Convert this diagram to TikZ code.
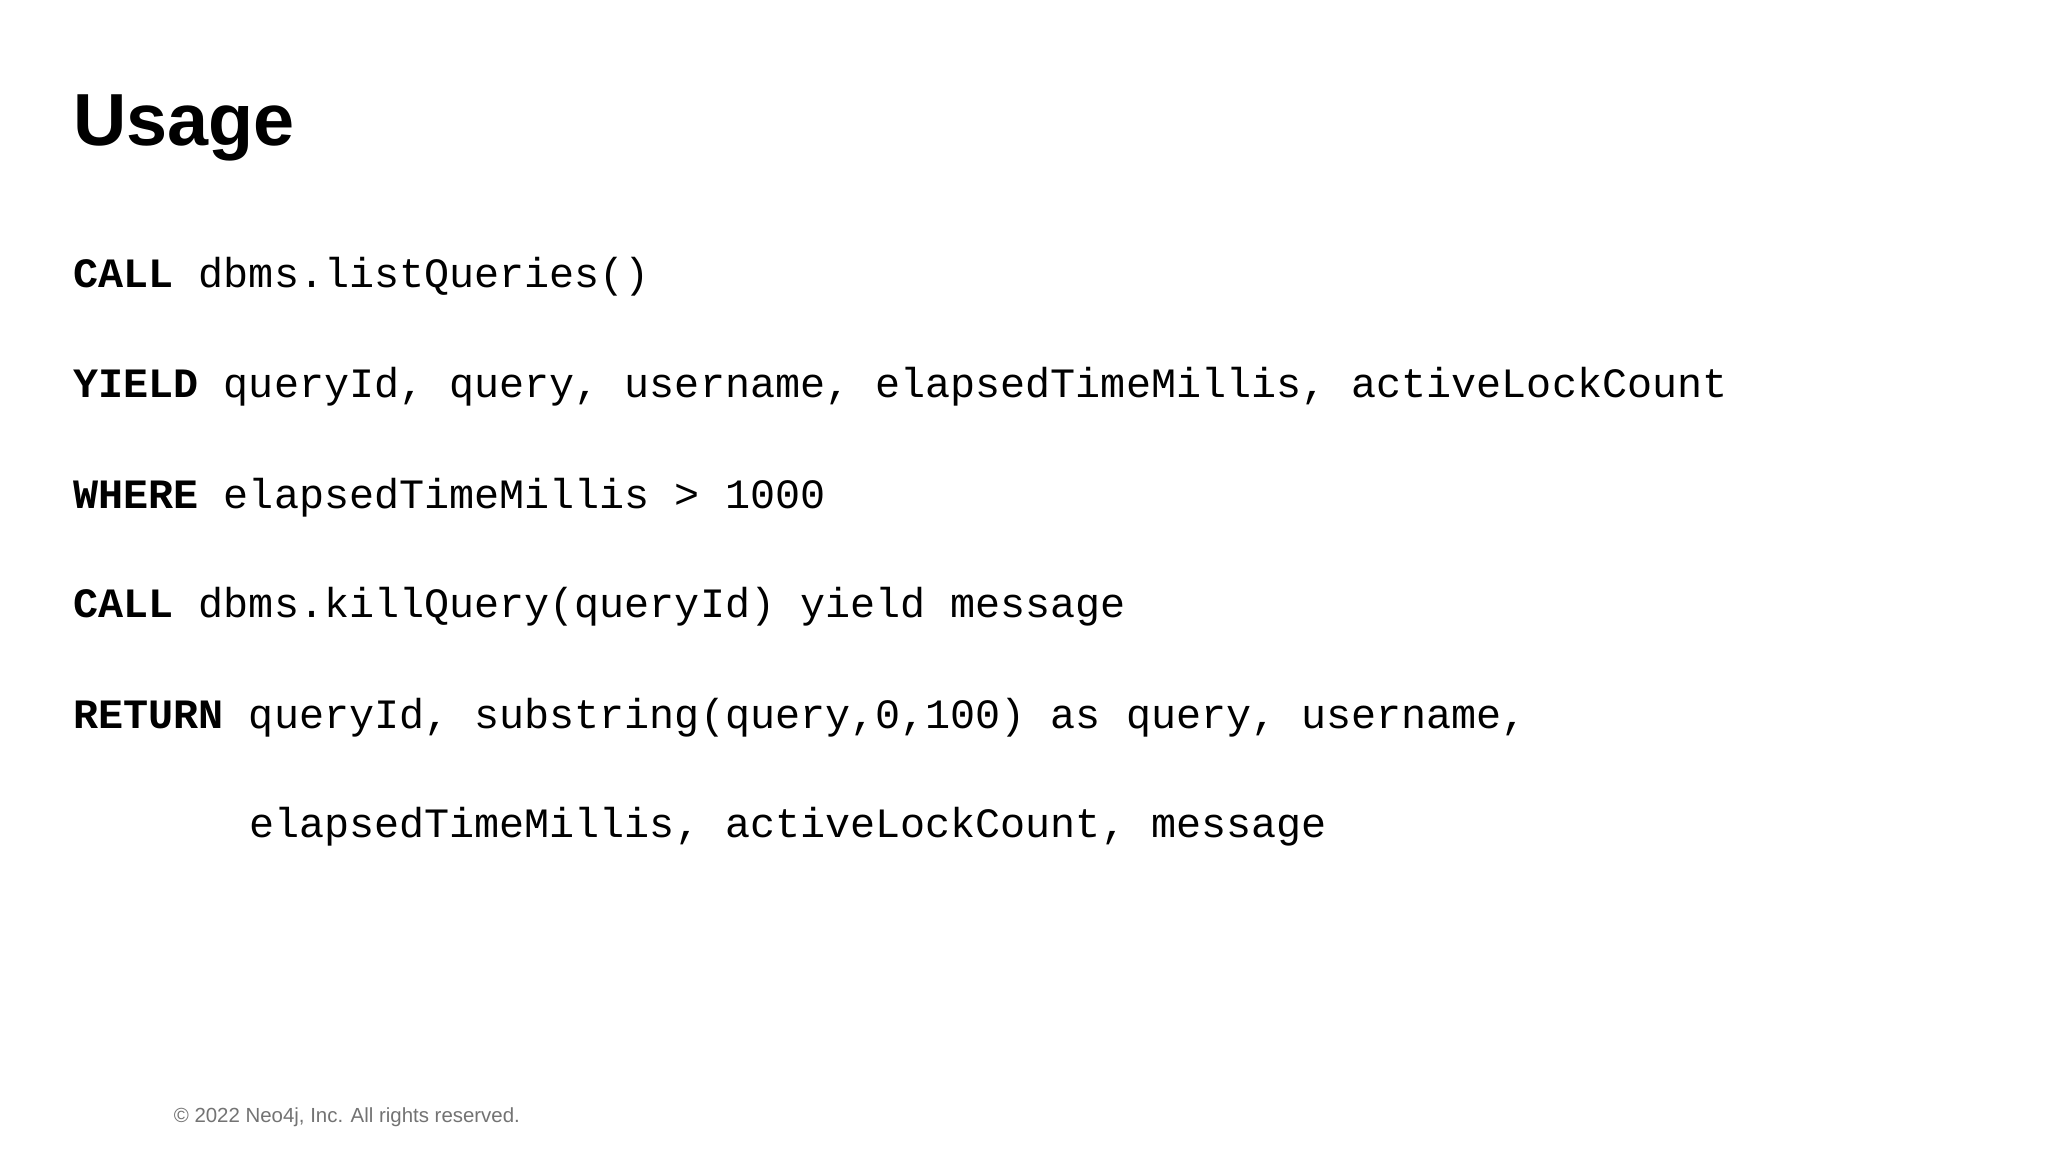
\documentclass[tikz,border=0pt]{standalone}
\usepackage{fontspec}
\setmainfont{Liberation Sans}
\setmonofont{Liberation Mono}
\begin{document}
\begin{tikzpicture}[x=0.01cm,y=-0.01cm,
  code/.style={anchor=base west,inner sep=0pt,font=\ttfamily\fontsize{9}{11}\selectfont}]
\useasboundingbox[fill=white] (0,0) rectangle (1552,873);
\node[anchor=base west,inner sep=0pt,font=\bfseries\fontsize{15.9}{18}\selectfont] (title) at (55,110) {Usage};
\node[code] (l1) at (55,218) {\textbf{CALL} dbms.listQueries()};
\node[code] (l2) at (55,301) {\textbf{YIELD} queryId, query, username, elapsedTimeMillis, activeLockCount};
\node[code] (l3) at (55,385) {\textbf{WHERE} elapsedTimeMillis > 1000};
\node[code] (l4) at (55,468) {\textbf{CALL} dbms.killQuery(queryId) yield message};
\node[code] (l5) at (55,552) {\textbf{RETURN} queryId, substring(query,0,100) as query, username,};
\node[code] (l6) at (188,635) {elapsedTimeMillis, activeLockCount, message};
\node[anchor=base west,inner sep=0pt,text=black!55,font=\fontsize{4.4}{5}\selectfont] (foot) at (131,851) {© 2022 Neo4j, Inc. All rights reserved.};
\end{tikzpicture}
\end{document}
